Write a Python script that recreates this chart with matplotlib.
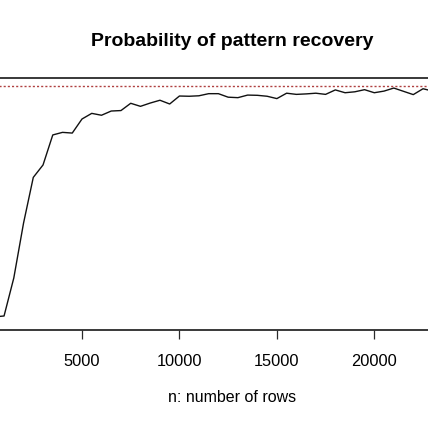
import matplotlib
matplotlib.use("Agg")
import matplotlib.pyplot as plt

# ---- data ----
n_rows = [500, 1000, 1500, 2000, 2500, 3000, 3500, 4000, 4500, 5000,
          5500, 6000, 6500, 7000, 7500, 8000, 8500, 9000, 9500, 10000,
          10500, 11000, 11500, 12000, 12500, 13000, 13500, 14000, 14500, 15000,
          15500, 16000, 16500, 17000, 17500, 18000, 18500, 19000, 19500, 20000,
          20500, 21000, 21500, 22000, 22500, 23000]
prob = [0.014, 0.018, 0.180, 0.414, 0.609, 0.662, 0.790, 0.801, 0.798, 0.858,
        0.882, 0.874, 0.892, 0.894, 0.925, 0.912, 0.926, 0.938, 0.922, 0.956,
        0.955, 0.957, 0.966, 0.966, 0.951, 0.949, 0.960, 0.959, 0.955, 0.945,
        0.968, 0.963, 0.965, 0.968, 0.963, 0.982, 0.970, 0.974, 0.983, 0.970,
        0.977, 0.990, 0.976, 0.962, 0.987, 0.977]
ref_level = 1.0
x_ticks = [5000, 10000, 15000, 20000]
x_tick_labels = ["5000", "10000", "15000", "20000"]
title = "Probability of pattern recovery"
xlabel = "n: number of rows"

# ---- layout (pixel geometry of the cropped R plot) ----
W = H = 428
dpi = 100
fig = plt.figure(figsize=(W / dpi, H / dpi), dpi=dpi)
plt.rcParams['font.family'] = ['Liberation Sans', 'DejaVu Sans']

px_per_unit = (374.3 - 82.0) / 15000.0
px_zero = 82.0 - 5000 * px_per_unit
ax_left_px, ax_right_px = -30.0, 470.0
top_px, bot_px = 78.3, 329.5
y1_px, y0_px = 85.7, 320.2
unit_y = y0_px - y1_px

ax = fig.add_axes([ax_left_px / W, (H - bot_px) / H,
                   (ax_right_px - ax_left_px) / W, (bot_px - top_px) / H])
ax.set_xlim((ax_left_px - px_zero) / px_per_unit, (ax_right_px - px_zero) / px_per_unit)
ax.set_ylim((y0_px - bot_px) / unit_y, (y0_px - top_px) / unit_y)

ax.plot(n_rows, prob, color="#111111", lw=1.0)
ax.axhline(ref_level, color="#b04040", lw=1.0, linestyle=(0, (1.5, 1.5)))

for s in ax.spines.values():
    s.set_color("#2a2a2a")
    s.set_linewidth(1.3)

ax.set_xticks(x_ticks)
ax.set_xticklabels(x_tick_labels, fontsize=11.8)
ax.tick_params(axis='x', direction='out', length=6.5, width=0.9, pad=11.5, color="#2a2a2a")
ax.set_yticks([])

fig.text(232.5 / W, 1 - 41 / H, title, ha='center', va='center',
         fontsize=14, fontweight='bold')
fig.text(232.5 / W, 1 - 397.5 / H, xlabel, ha='center', va='center', fontsize=11.5)

fig.savefig("out.png", dpi=dpi)
